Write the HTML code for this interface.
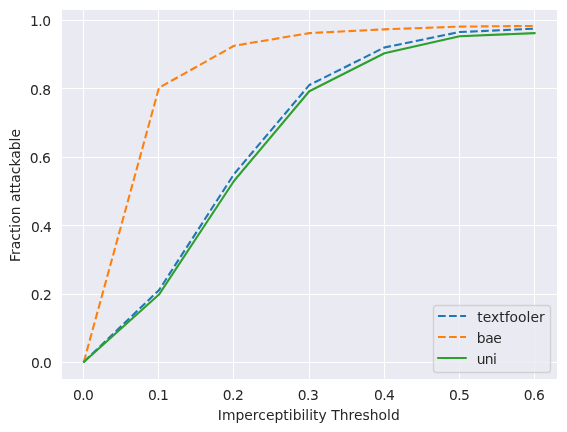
<!DOCTYPE html>
<html lang="en"><head><meta charset="utf-8"><title>Fraction attackable vs Imperceptibility Threshold</title>
<style>html,body{margin:0;padding:0;background:#fff;overflow:hidden}svg{display:block}text{font-family:"DejaVu Sans","Liberation Sans",sans-serif;font-size:13.889px;fill:#262626}</style></head><body>
<svg width="567" height="432" viewBox="0 0 567 432">
<rect width="567" height="432" fill="#ffffff"/>
<rect x="62" y="10" width="495" height="369" fill="#eaeaf2"/>
<g fill="#ffffff" shape-rendering="crispEdges">
<rect x="83" y="10" width="1" height="369"/>
<rect x="158" y="10" width="1" height="369"/>
<rect x="233" y="10" width="1" height="369"/>
<rect x="309" y="10" width="1" height="369"/>
<rect x="384" y="10" width="1" height="369"/>
<rect x="459" y="10" width="1" height="369"/>
<rect x="534" y="10" width="1" height="369"/>
<rect x="62" y="20" width="495" height="1"/>
<rect x="62" y="88" width="495" height="1"/>
<rect x="62" y="157" width="495" height="1"/>
<rect x="62" y="225" width="495" height="1"/>
<rect x="62" y="294" width="495" height="1"/>
<rect x="62" y="362" width="495" height="1"/>
</g>
<g text-anchor="middle" letter-spacing="-0.57">
<text x="83.12" y="399.83">0.0</text>
<text x="158.15" y="399.83">0.1</text>
<text x="232.98" y="399.83">0.2</text>
<text x="308.03" y="399.83">0.3</text>
<text x="384.13" y="399.83">0.4</text>
<text x="459.07" y="399.83">0.5</text>
<text x="534.02" y="399.83">0.6</text>
</g>
<text text-anchor="middle" letter-spacing="0.02" x="308.79" y="419.98">Imperceptibility Threshold</text>
<g text-anchor="end" letter-spacing="-0.52">
<text x="50.57" y="25.76">1.0</text>
<text x="50.49" y="94.76">0.8</text>
<text x="50.35" y="162.76">0.6</text>
<text x="51.42" y="231.76">0.4</text>
<text x="51.23" y="299.76">0.2</text>
<text x="51.42" y="367.76">0.0</text>
</g>
<text text-anchor="middle" letter-spacing="-0.0" transform="translate(19.76 195.47) rotate(-90)">Fraction attackable</text>
<g fill="none" stroke-width="2.083" stroke-linejoin="round">
<polyline points="83.82,361.92 158.97,290.14 234.13,173.92 309.28,85.05 384.43,47.45 459.58,32.07 534.73,28.65" stroke="#1f77b4" stroke-dasharray="7.708 3.333"/>
<polyline points="83.82,361.92 158.97,87.79 234.13,45.75 309.28,33.10 384.43,29.34 459.58,26.60 534.73,25.92" stroke="#ff7f0e" stroke-dasharray="7.708 3.333"/>
<polyline points="83.82,361.92 158.97,294.58 234.13,180.76 309.28,91.21 384.43,53.26 459.58,36.17 534.73,33.10" stroke="#2ca02c" stroke-linecap="round"/>
</g>
<rect x="433.5" y="305.5" width="117" height="67" rx="2.78" ry="2.78" fill="#eaeaf2" stroke="#cccccc" stroke-width="1.389" opacity="0.8"/>
<line x1="438" y1="316" x2="466" y2="316" stroke="#1f77b4" stroke-width="2.083" stroke-dasharray="7.708 3.333"/>
<text letter-spacing="0.020" x="477.20" y="322.18">textfooler</text>
<line x1="438" y1="337" x2="466" y2="337" stroke="#ff7f0e" stroke-width="2.083" stroke-dasharray="7.708 3.333"/>
<text letter-spacing="-0.410" x="476.87" y="343.30">bae</text>
<line x1="438" y1="358" x2="466" y2="358" stroke="#2ca02c" stroke-width="2.083" stroke-linecap="round"/>
<text letter-spacing="-0.700" x="476.74" y="364.14">uni</text>
</svg></body></html>
